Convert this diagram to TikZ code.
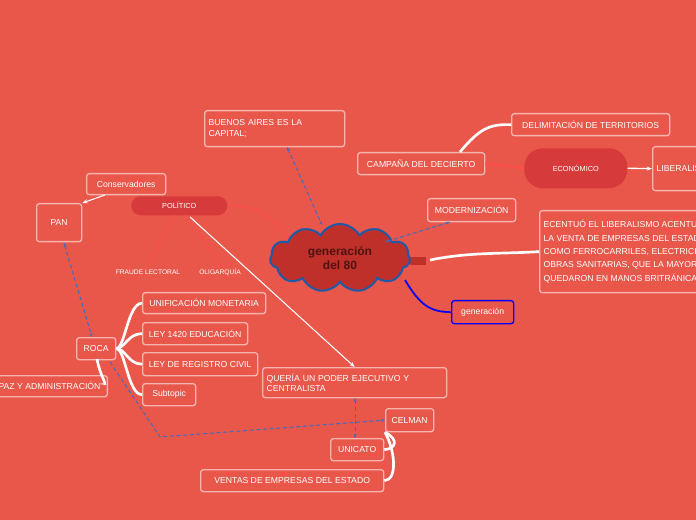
\documentclass[tikz,border=0pt]{standalone}
\usepackage{fontspec}
\setmainfont{Liberation Sans}
\usetikzlibrary{shapes.symbols,arrows.meta,shapes.geometric}
\definecolor{bg}{HTML}{E9564A}
\definecolor{cloudf}{HTML}{C0302A}
\definecolor{cloudb}{HTML}{1E5AAA}
\definecolor{pill}{HTML}{D63A3A}
\definecolor{pale}{HTML}{F5B5AE}
\definecolor{dblue}{HTML}{2F6FD0}
\tikzset{
 box/.style={draw=pale,line width=1pt,rounded corners=2pt,text=white,font=\fontsize{6.5}{8}\selectfont,inner sep=3pt,align=left,anchor=north west},
 pillbox/.style={fill=pill,rounded corners=9pt,text=white,font=\fontsize{6}{7}\selectfont,anchor=north west},
 dsh/.style={dblue,densely dashed,line width=0.7pt,{Stealth[length=3pt]}-{Stealth[length=3pt]}},
 wl/.style={white,line width=2pt},
 rl/.style={red!70!white,line width=0.8pt},
}
\begin{document}
\begin{tikzpicture}[x=0.75pt,y=-0.75pt]
\fill[bg] (0,0) rectangle (696,520);
\useasboundingbox (0,0) rectangle (696,520);
% nodes
\node[box,text width=132pt*0.75,minimum height=36pt*0.75] (ba) at (204,110) {BUENOS AIRES ES LA\\CAPITAL;};
\node[box,minimum width=127*0.75pt,minimum height=22*0.75pt] (cd) at (357,152) {CAMPAÑA DEL DECIERTO};
\node[box,minimum width=158*0.75pt,minimum height=22*0.75pt] (dt) at (511,113) {DELIMITACIÓN DE TERRITORIOS};
\node[pillbox,minimum width=103*0.75pt,minimum height=40*0.75pt,rounded corners=14pt] (ec) at (524,148) {};
\node[text=white,font=\fontsize{5.5}{7}\selectfont] at (ec.center) {ECONÓMICO};
\node[box,minimum width=60*0.75pt,minimum height=44*0.75pt] (lib) at (652,146) {LIBERALISMO};
\node[box,minimum width=88*0.75pt,minimum height=23*0.75pt] (mo) at (427,198) {MODERNIZACIÓN};
\node[box,minimum height=82*0.75pt,font=\fontsize{6.5}{10}\selectfont] (lt) at (539,210) {ECENTUÓ EL LIBERALISMO ACENTUANDO\\LA VENTA DE EMPRESAS DEL ESTADO\\COMO FERROCARRILES, ELECTRICIDAD\\OBRAS SANITARIAS, QUE LA MAYORÍA\\QUEDARON EN MANOS BRITRÁNICAS};
\node[box,draw=blue,minimum width=62*0.75pt,minimum height=23*0.75pt] (ge) at (451,300) {generación};
\node[pillbox,minimum width=96*0.75pt,minimum height=19*0.75pt,rounded corners=7pt] (po) at (131,196) {};
\node[text=white,font=\fontsize{5.5}{7}\selectfont] at (po.center) {POLÍTICO};
\node[box,minimum width=79*0.75pt,minimum height=21*0.75pt] (co) at (86,173) {Conservadores};
\node[box,minimum width=45*0.75pt,minimum height=38*0.75pt,anchor=north west] (pan) at (36,203) {PAN};
\node[text=white,font=\fontsize{5}{6}\selectfont] (fr) at (148,272) {FRAUDE LECTORAL};
\node[text=white,font=\fontsize{5}{6}\selectfont] (ol) at (220,272) {OLIGARQUÍA};
\node[box,minimum width=39*0.75pt,minimum height=22*0.75pt] (ro) at (76,337) {ROCA};
\node[box,minimum width=123*0.75pt,minimum height=21*0.75pt] (um) at (142,292) {UNIFICACIÓN MONETARIA};
\node[box,minimum width=105*0.75pt,minimum height=22*0.75pt] (le) at (142,322) {LEY 1420 EDUCACIÓN};
\node[box,minimum width=115*0.75pt,minimum height=23*0.75pt] (lr) at (142,352) {LEY DE REGISTRO CIVIL};
\node[box,minimum width=53*0.75pt,minimum height=22*0.75pt] (su) at (142,383) {Subtopic};
\node[box,anchor=north east,minimum height=21*0.75pt] (pa) at (108,375) {PAZ Y ADMINISTRACIÓN"};
\node[box,text width=176*0.75pt,minimum height=30*0.75pt] (qu) at (262,367) {QUERÍA UN PODER EJECUTIVO Y\\CENTRALISTA};
\node[box,minimum width=48*0.75pt,minimum height=23*0.75pt] (ce) at (385,408) {CELMAN};
\node[box,minimum width=53*0.75pt,minimum height=22*0.75pt] (un) at (330,438) {UNICATO};
\node[box,minimum width=183*0.75pt,minimum height=22*0.75pt] (ve) at (200,469) {VENTAS DE EMPRESAS DEL ESTADO};
\node[fill=cloudf,minimum width=16*0.75pt,minimum height=8*0.75pt,inner sep=0pt] (cm) at (418,261) {};
% red lines
\draw[rl] (po.east) .. controls (260,205) and (270,215) .. (290,240);
\draw[rl] (175,215) -- (fr.north);
\draw[rl] (185,215) -- (ol.north);
\draw[rl,line width=1.5pt] (cd.east) -- (ec.west);
% cloud
\node[cloud,cloud puffs=11,cloud puff arc=120,aspect=2,fill=cloudf,draw=cloudb,line width=1.5pt,minimum width=140*0.75pt,minimum height=68*0.75pt,font=\bfseries\fontsize{9}{10}\selectfont,text=black!60!cloudf,align=center] (g) at (340,258) {generación\\del 80};
% white curves
\draw[wl] (430,260) .. controls (470,252) and (500,254) .. (lt.west);
\draw[white,line width=1pt,-{Stealth[length=4pt]}] (ec.east) -- (lib.west);
\draw[wl] (460,152) .. controls (480,128) and (490,124) .. (dt.west);
\draw[white,line width=0.8pt,-{Stealth[length=4pt]}] (190,217) -- (qu.north);
\draw[white,line width=0.8pt,-{Stealth[length=4pt]}] (105,195) -- (pan.north east);
\foreach \t in {um,le,lr,su} \draw[wl] (ro.east) .. controls (125,348) and (128,0|-\t.west) .. (\t.west);
\draw[wl] (97,359) .. controls (100,375) and (105,380) .. (105,385);
\draw[wl] (ce.south west) .. controls (400,440) and (395,449) .. (un.east);
\draw[wl] (ce.south west) .. controls (395,450) and (398,480) .. (ve.east);
\draw[blue,line width=1.3pt] (405,280) .. controls (420,305) and (430,312) .. (ge.west);
% dashed
\draw[dsh] (287,147) -- (322,225);
\draw[dsh] (385,242) -- (450,222);
\draw[dsh] (64,243) -- (92,337);
\draw[dblue,densely dashed,line width=0.7pt,-{Stealth[length=3pt]}] (110,362) -- (160,437) -- (ce.west);
\draw[dsh] (355,398) -- (355,438);
\end{tikzpicture}
\end{document}
